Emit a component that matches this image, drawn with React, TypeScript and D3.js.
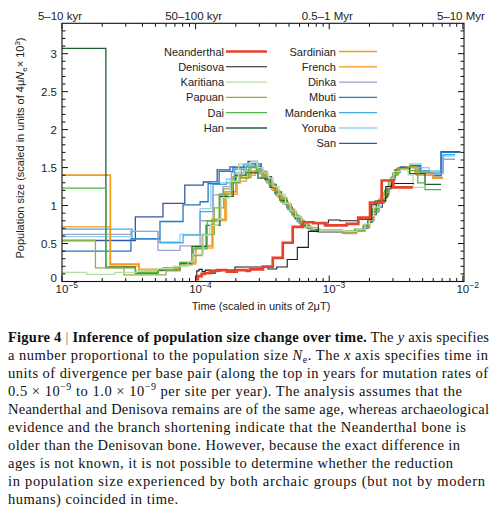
import * as d3 from 'd3';

type Pt = [number, number];

// time in units of 2μT, population size in units of 4μNe × 10^3
const neanderthal: Pt[] = [
  [9.9e-5, 0.03], [1.04e-4, 0.07], [1.11e-4, 0.1], [1.17e-4, 0.11], [1.28e-4, 0.14], [1.44e-4, 0.15],
  [1.71e-4, 0.13], [2.03e-4, 0.15], [2.41e-4, 0.14], [2.55e-4, 0.16], [3.19e-4, 0.195], [3.78e-4, 0.31],
  [4.49e-4, 0.51], [5.33e-4, 0.72], [6.34e-4, 0.78], [7.6e-4, 0.77], [9.31e-4, 0.74], [1.35e-3, 0.76],
  [1.65e-3, 0.84], [2.02e-3, 1.04], [2.47e-3, 1.33], [3.02e-3, 1.24], [4.22e-3, 1.24],
];
const denisova: Pt[] = [
  [9.9e-5, 0.04], [1.02e-4, 0.14], [1.06e-4, 0.16], [1.12e-4, 0.13], [1.18e-4, 0.15], [1.3e-4, 0.11],
  [1.4e-4, 0.14], [1.55e-4, 0.15], [1.97e-4, 0.19], [3.03e-4, 0.19], [3.48e-4, 0.165], [4.05e-4, 0.19],
  [4.85e-4, 0.29], [5.77e-4, 0.45], [6.98e-4, 0.66], [8.28e-4, 0.77], [9.85e-4, 0.81], [1.2e-3, 0.8],
  [1.65e-3, 0.82], [2.08e-3, 1.01], [2.2e-3, 1.06], [2.65e-3, 1.25], [2.94e-3, 1.29], [4.31e-3, 1.29],
];
const karitiana: Pt[] = [
  [1e-5, 0.12], [1.53e-5, 0.095], [2.49e-5, 0.12], [3.62e-5, 0.15], [5.23e-5, 0.17], [6.77e-5, 0.2],
  [8.77e-5, 0.26], [9.57e-5, 0.36], [1.14e-4, 0.61], [1.28e-4, 0.74], [1.47e-4, 0.82], [1.55e-4, 1.1],
  [1.8e-4, 1.32], [2.1e-4, 1.55], [2.6e-4, 1.58], [2.9e-4, 1.5], [3.2e-4, 1.44], [3.5e-4, 1.36],
  [3.8e-4, 1.25], [4.2e-4, 1.15], [4.7e-4, 1.03], [5.1e-4, 0.93], [5.6e-4, 0.85], [6.2e-4, 0.77],
  [6.8e-4, 0.72], [7.6e-4, 0.7], [8.5e-4, 0.67], [1.3e-3, 0.66], [1.6e-3, 0.69], [1.85e-3, 0.76],
  [2.0e-3, 0.86], [2.15e-3, 0.98], [2.4e-3, 1.12], [2.65e-3, 1.24], [2.85e-3, 1.36], [3.05e-3, 1.45],
  [3.4e-3, 1.47], [3.9e-3, 1.4], [4.24e-3, 1.24], [5.21e-3, 1.24],
];
const papuan: Pt[] = [
  [1e-5, 0.54], [1.78e-5, 0.18], [2.91e-5, 0.086], [6.0e-5, 0.14], [7.64e-5, 0.22], [9.4e-5, 0.34],
  [1.12e-4, 0.62], [1.38e-4, 0.97], [1.62e-4, 1.22], [1.9e-4, 1.38], [2.2e-4, 1.47], [2.6e-4, 1.52],
  [2.95e-4, 1.46], [3.25e-4, 1.38], [3.55e-4, 1.29], [3.9e-4, 1.19], [4.3e-4, 1.09], [4.75e-4, 1.0],
  [5.2e-4, 0.91], [5.7e-4, 0.82], [6.3e-4, 0.75], [7.1e-4, 0.7], [8.2e-4, 0.66], [1.28e-3, 0.65],
  [1.58e-3, 0.67], [1.83e-3, 0.72], [1.98e-3, 0.81], [2.13e-3, 0.93], [2.34e-3, 1.05], [2.6e-3, 1.17],
  [2.8e-3, 1.29], [3.0e-3, 1.41], [3.28e-3, 1.49], [3.9e-3, 1.51], [4.6e-3, 1.44], [5.21e-3, 1.44],
];
const dai: Pt[] = [
  [1e-5, 1.23], [2.13e-5, 0.18], [3.54e-5, 0.12], [5.23e-5, 0.16], [7.64e-5, 0.25], [9.6e-5, 0.43],
  [1.22e-4, 0.8], [1.5e-4, 1.15], [1.85e-4, 1.31], [2.1e-4, 1.36], [2.5e-4, 1.5], [2.85e-4, 1.46],
  [3.2e-4, 1.37], [3.55e-4, 1.27], [3.9e-4, 1.16], [4.35e-4, 1.05], [4.9e-4, 0.95], [5.4e-4, 0.86],
  [6.0e-4, 0.77], [6.8e-4, 0.71], [7.8e-4, 0.67], [1.25e-3, 0.66], [1.55e-3, 0.69], [1.82e-3, 0.75],
  [1.98e-3, 0.84], [2.12e-3, 0.96], [2.35e-3, 1.08], [2.6e-3, 1.2], [2.8e-3, 1.32], [3.0e-3, 1.43],
  [3.3e-3, 1.49], [3.9e-3, 1.46], [4.6e-3, 1.3], [5.21e-3, 1.21], [6.87e-3, 1.21],
];
const han: Pt[] = [
  [1e-5, 3.07], [2.13e-5, 0.19], [3.54e-5, 0.11], [5.23e-5, 0.15], [7.64e-5, 0.24], [9.4e-5, 0.46],
  [1.2e-4, 0.74], [1.52e-4, 1.12], [1.91e-4, 1.31], [2.0e-4, 1.4], [2.38e-4, 1.43], [2.93e-4, 1.36],
  [3.31e-4, 1.35], [3.61e-4, 1.24], [3.93e-4, 1.18], [4.28e-4, 1.07], [4.83e-4, 1.0], [5.09e-4, 0.92],
  [5.55e-4, 0.83], [6.15e-4, 0.74], [6.94e-4, 0.7], [8.0e-4, 0.67], [1.3e-3, 0.66], [1.55e-3, 0.68],
  [1.8e-3, 0.73], [1.95e-3, 0.8], [2.05e-3, 0.92], [2.25e-3, 1.03], [2.5e-3, 1.12], [2.75e-3, 1.23],
  [2.9e-3, 1.37], [3.1e-3, 1.47], [3.4e-3, 1.5], [4.0e-3, 1.42], [5.21e-3, 1.28], [6.87e-3, 1.28],
];
const sardinian: Pt[] = [
  [1e-5, 1.4], [2.3e-5, 0.23], [3.77e-5, 0.16], [5.7e-5, 0.18], [7.64e-5, 0.25], [1.0e-4, 0.47],
  [1.33e-4, 0.82], [1.66e-4, 1.18], [2.0e-4, 1.3], [2.15e-4, 1.37], [2.6e-4, 1.45], [2.9e-4, 1.47],
  [3.2e-4, 1.38], [3.5e-4, 1.32], [3.8e-4, 1.2], [4.2e-4, 1.1], [4.7e-4, 1.02], [5.2e-4, 0.92],
  [5.6e-4, 0.82], [6.3e-4, 0.74], [7.0e-4, 0.7], [8.0e-4, 0.66], [1.3e-3, 0.65], [1.6e-3, 0.67],
  [1.85e-3, 0.72], [2.0e-3, 0.8], [2.15e-3, 0.93], [2.35e-3, 1.04], [2.6e-3, 1.15], [2.8e-3, 1.28],
  [3.0e-3, 1.4], [3.25e-3, 1.48], [3.8e-3, 1.51], [4.4e-3, 1.42], [5.98e-3, 1.36], [7.11e-3, 1.36],
];
const french: Pt[] = [
  [1e-5, 0.72], [2.3e-5, 0.2], [3.77e-5, 0.14], [5.7e-5, 0.16], [7.64e-5, 0.23], [1.0e-4, 0.44],
  [1.35e-4, 0.8], [1.7e-4, 1.15], [2.05e-4, 1.32], [2.4e-4, 1.4], [2.8e-4, 1.46], [3.1e-4, 1.42],
  [3.4e-4, 1.34], [3.7e-4, 1.23], [4.1e-4, 1.12], [4.6e-4, 1.03], [5.1e-4, 0.95], [5.5e-4, 0.86],
  [6.1e-4, 0.77], [6.8e-4, 0.71], [7.7e-4, 0.68], [1.25e-3, 0.66], [1.55e-3, 0.68], [1.8e-3, 0.73],
  [1.98e-3, 0.82], [2.1e-3, 0.95], [2.3e-3, 1.06], [2.55e-3, 1.17], [2.78e-3, 1.3], [2.98e-3, 1.42],
  [3.2e-3, 1.49], [3.7e-3, 1.5], [4.5e-3, 1.4], [5.98e-3, 1.37], [7.11e-3, 1.37],
];
const dinka: Pt[] = [
  [1e-5, 0.62], [3.28e-5, 0.66], [5.23e-5, 0.41], [7.64e-5, 0.47], [1.08e-4, 0.8], [1.35e-4, 1.14],
  [1.6e-4, 1.25], [1.85e-4, 1.43], [2.3e-4, 1.45], [2.8e-4, 1.44], [3.1e-4, 1.37], [3.4e-4, 1.3],
  [3.7e-4, 1.21], [4.05e-4, 1.13], [4.45e-4, 1.04], [4.9e-4, 0.96], [5.35e-4, 0.87], [5.85e-4, 0.79],
  [6.5e-4, 0.72], [7.3e-4, 0.68], [8.5e-4, 0.65], [1.3e-3, 0.63], [1.6e-3, 0.66], [1.84e-3, 0.71],
  [1.99e-3, 0.8], [2.14e-3, 0.92], [2.36e-3, 1.04], [2.6e-3, 1.16], [2.8e-3, 1.29], [3.0e-3, 1.41],
  [3.3e-3, 1.48], [4.0e-3, 1.5], [4.9e-3, 1.45], [5.6e-3, 1.42], [7.11e-3, 1.61], [8.75e-3, 1.61],
];
const mbuti: Pt[] = [
  [1e-5, 0.4], [3.28e-5, 0.56], [5.41e-5, 0.79], [8.05e-5, 1.01], [1.08e-4, 1.05], [1.24e-4, 1.29],
  [1.5e-4, 1.45], [1.9e-4, 1.5], [2.3e-4, 1.55], [2.8e-4, 1.52], [3.05e-4, 1.42], [3.35e-4, 1.33],
  [3.65e-4, 1.25], [4.0e-4, 1.14], [4.4e-4, 1.06], [4.85e-4, 0.98], [5.3e-4, 0.88], [5.8e-4, 0.8],
  [6.5e-4, 0.73], [7.3e-4, 0.68], [8.5e-4, 0.65], [1.3e-3, 0.64], [1.6e-3, 0.67], [1.85e-3, 0.71],
  [2.0e-3, 0.81], [2.15e-3, 0.93], [2.35e-3, 1.05], [2.6e-3, 1.17], [2.8e-3, 1.3], [3.0e-3, 1.42],
  [3.3e-3, 1.5], [4.0e-3, 1.52], [4.8e-3, 1.45], [5.6e-3, 1.4], [6.87e-3, 1.7], [9.6e-3, 1.7],
];
const mandenka: Pt[] = [
  [1e-5, 0.69], [3.34e-5, 0.56], [5.41e-5, 0.51], [8.05e-5, 0.61], [1.08e-4, 0.92], [1.35e-4, 1.28],
  [1.7e-4, 1.3], [1.95e-4, 1.48], [2.4e-4, 1.52], [2.75e-4, 1.5], [3.0e-4, 1.44], [3.3e-4, 1.35],
  [3.6e-4, 1.26], [3.95e-4, 1.15], [4.35e-4, 1.06], [4.8e-4, 0.97], [5.25e-4, 0.88], [5.75e-4, 0.79],
  [6.4e-4, 0.72], [7.2e-4, 0.68], [8.3e-4, 0.65], [1.28e-3, 0.64], [1.58e-3, 0.66], [1.82e-3, 0.71],
  [1.97e-3, 0.79], [2.12e-3, 0.91], [2.32e-3, 1.03], [2.58e-3, 1.15], [2.78e-3, 1.28], [2.98e-3, 1.4],
  [3.25e-3, 1.48], [3.9e-3, 1.5], [4.7e-3, 1.46], [5.6e-3, 1.44], [7.11e-3, 1.67], [8.75e-3, 1.67],
];
const yoruba: Pt[] = [
  [1e-5, 0.59], [3.28e-5, 0.66], [5.23e-5, 0.52], [7.64e-5, 0.62], [1.08e-4, 0.96], [1.3e-4, 1.3],
  [1.7e-4, 1.35], [2.0e-4, 1.52], [2.5e-4, 1.55], [2.85e-4, 1.48], [3.1e-4, 1.42], [3.4e-4, 1.32],
  [3.7e-4, 1.22], [4.05e-4, 1.12], [4.5e-4, 1.02], [4.95e-4, 0.94], [5.4e-4, 0.85], [5.9e-4, 0.77],
  [6.6e-4, 0.71], [7.5e-4, 0.67], [8.8e-4, 0.65], [1.3e-3, 0.645], [1.6e-3, 0.67], [1.84e-3, 0.72],
  [1.99e-3, 0.81], [2.14e-3, 0.93], [2.38e-3, 1.06], [2.62e-3, 1.18], [2.82e-3, 1.3], [3.02e-3, 1.42],
  [3.3e-3, 1.5], [4.0e-3, 1.55], [4.9e-3, 1.5], [5.6e-3, 1.46], [7.11e-3, 1.65], [8.75e-3, 1.65],
];
const san: Pt[] = [
  [1e-5, 0.54], [3.54e-5, 0.85], [5.7e-5, 1.03], [8.3e-5, 1.27], [1.14e-4, 1.31], [1.45e-4, 1.47],
  [1.81e-4, 1.51], [2.47e-4, 1.58], [2.9e-4, 1.55], [3.1e-4, 1.45], [3.4e-4, 1.38], [3.7e-4, 1.28],
  [4.0e-4, 1.18], [4.4e-4, 1.1], [4.8e-4, 1.01], [5.2e-4, 0.93], [5.6e-4, 0.85], [6.2e-4, 0.76],
  [6.9e-4, 0.7], [7.8e-4, 0.66], [1.25e-3, 0.64], [1.55e-3, 0.66], [1.8e-3, 0.7], [1.95e-3, 0.78],
  [2.1e-3, 0.88], [2.25e-3, 0.98], [2.5e-3, 1.1], [2.7e-3, 1.22], [2.9e-3, 1.34], [3.1e-3, 1.44],
  [3.4e-3, 1.51], [4.1e-3, 1.53], [4.8e-3, 1.43], [5.98e-3, 1.39], [6.87e-3, 1.71], [9.6e-3, 1.71],
];

const legendLeft = ['Neanderthal', 'Denisova', 'Karitiana', 'Papuan', 'Dai', 'Han'];
const legendRight = ['Sardinian', 'French', 'Dinka', 'Mbuti', 'Mandenka', 'Yoruba', 'San'];
const topLabels = ['5–10 kyr', '50–100 kyr', '0.5–1 Myr', '5–10 Myr'];
const decades = [-5, -4, -3, -2];
const yLabels = [0, 0.5, 1, 1.5, 2, 2.5, 3];

const series: { name: string; color: string; width: number; data: Pt[] }[] = [
  { name: 'Neanderthal', color: '#e8412c', width: 2.7, data: neanderthal },
  { name: 'Denisova', color: '#1a1a1a', width: 1.1, data: denisova },
  { name: 'Karitiana', color: '#b9dca5', width: 1.3, data: karitiana },
  { name: 'Papuan', color: '#8db046', width: 1.3, data: papuan },
  { name: 'Dai', color: '#4cb84a', width: 1.3, data: dai },
  { name: 'Han', color: '#1d5e34', width: 1.3, data: han },
  { name: 'Sardinian', color: '#f29a1d', width: 1.7, data: sardinian },
  { name: 'French', color: '#f5aa45', width: 1.5, data: french },
  { name: 'Dinka', color: '#a39fcf', width: 1.3, data: dinka },
  { name: 'Mbuti', color: '#1f7ac2', width: 1.3, data: mbuti },
  { name: 'Mandenka', color: '#3fade3', width: 1.3, data: mandenka },
  { name: 'Yoruba', color: '#94d1ec', width: 1.3, data: yoruba },
  { name: 'San', color: '#3557a3', width: 1.3, data: san },
];

type Seg = { t: string; b?: boolean; i?: boolean; sup?: boolean; sub?: boolean; thin?: boolean };
const caption: Seg[][] = [
  [{ t: 'Figure 4 ', b: true }, { t: '|', thin: true }, { t: ' Inference of population size change over time.', b: true }, { t: '  The ' }, { t: 'y', i: true }, { t: ' axis specifies' }],
  [{ t: 'a number proportional to the population size ' }, { t: 'N', i: true }, { t: 'e', sub: true }, { t: '. The ' }, { t: 'x', i: true }, { t: ' axis specifies time in' }],
  [{ t: 'units of divergence per base pair (along the top in years for mutation rates of' }],
  [{ t: '0.5 × 10' }, { t: '−9', sup: true }, { t: ' to 1.0 × 10' }, { t: '−9', sup: true }, { t: ' per site per year). The analysis assumes that the' }],
  [{ t: 'Neanderthal and Denisova remains are of the same age, whereas archaeological' }],
  [{ t: 'evidence and the branch shortening indicate that the Neanderthal bone is' }],
  [{ t: 'older than the Denisovan bone. However, because the exact difference in' }],
  [{ t: 'ages is not known, it is not possible to determine whether the reduction' }],
  [{ t: 'in population size experienced by both archaic groups (but not by modern' }],
  [{ t: 'humans) coincided in time.' }],
];
const captionWidths = [481, 480, 480, 454, 481, 458, 452, 445, 477, 170];

const SANS = '"Liberation Sans", Arial, Helvetica, sans-serif';
const SERIF = '"Liberation Serif", "Times New Roman", serif';

function renderSegs(segs: Seg[]) {
  let off = 0;
  return segs.map((s, k) => {
    let target = 0;
    if (s.sup) target = -5.5;
    if (s.sub) target = 3;
    const dy = target - off;
    off = target;
    return (
      <tspan
        key={k}
        dy={dy}
        fontWeight={s.b ? 'bold' : undefined}
        fontStyle={s.i ? 'italic' : undefined}
        fontSize={s.sup || s.sub ? '10px' : undefined}
        fill={s.thin ? '#777' : undefined}
      >
        {s.t}
      </tspan>
    );
  });
}

export default function App() {
  const W = 497;
  const H = 516;
  const left = 62, right = 464, top = 23.3, bottom = 281.5;

  const x = d3.scaleLog().domain([1e-5, 1.02e-2]).range([left, right]);
  const y = d3.scaleLinear().domain([0, 3.4]).range([bottom, top]);
  const line = d3.line<Pt>().x(d => x(d[0])).y(d => y(d[1])).curve(d3.curveStepAfter);

  const xTicks: { v: number; major: boolean }[] = [];
  decades.forEach(d => {
    for (let k = 1; k <= 9; k++) {
      const v = k * Math.pow(10, d);
      if (v <= 1.02e-2) xTicks.push({ v, major: k === 1 });
    }
  });
  const yTicks = d3.range(0, 34).map(i => ({ v: i / 10, major: i % 5 === 0 }));

  const colorOf = (n: string) => series.find(s => s.name === n)!.color;
  const widthOf = (n: string) => Math.min(series.find(s => s.name === n)!.width, 2.4);
  const rowY = (i: number) => 51.5 + i * 15.3;

  return (
    <div style={{ position: 'absolute', left: 0, top: 0, width: W, height: H, background: '#fff' }}>
      <svg width={W} height={H} viewBox={`0 0 ${W} ${H}`} style={{ display: 'block' }}>
        <defs>
          <clipPath id="plot-clip">
            <rect x={left} y={top} width={right - left} height={bottom - top} />
          </clipPath>
        </defs>

        <g clipPath="url(#plot-clip)">
          {[...series].reverse().map(s => (
            <path key={s.name} d={line(s.data) || ''} fill="none" stroke={s.color} strokeWidth={s.width} />
          ))}
        </g>

        {/* frame and ticks */}
        <rect x={left} y={top} width={right - left} height={bottom - top} fill="none" stroke="#111" strokeWidth={1.1} />
        {xTicks.map((t, i) => {
          const px = x(t.v);
          const len = t.major ? 6 : 3.5;
          return (
            <g key={i} stroke="#111" strokeWidth={1}>
              <line x1={px} x2={px} y1={bottom} y2={bottom - len} />
              <line x1={px} x2={px} y1={top} y2={top + len} />
            </g>
          );
        })}
        {yTicks.map((t, i) => {
          const py = y(t.v);
          const len = t.major ? 6 : 3.5;
          return (
            <g key={i} stroke="#111" strokeWidth={1}>
              <line x1={left} x2={left + len} y1={py} y2={py} />
              <line x1={right} x2={right - len} y1={py} y2={py} />
            </g>
          );
        })}

        <g fontFamily={SANS} fontSize="11.5px" fill="#222">
          {yLabels.map(v => (
            <text key={v} x={57} y={y(v) + (v === 0 ? 0 : 4)} textAnchor="end">{String(v)}</text>
          ))}
          {decades.map(d => (
            <text key={d} x={x(Math.pow(10, d)) - 6.4} y={293}>
              10<tspan dy={-5} fontSize="8.5px">{'−' + Math.abs(d)}</tspan>
            </text>
          ))}
          {decades.map((d, i) => (
            <text key={'t' + d} x={x(Math.pow(10, d)) - 2} y={20} textAnchor="middle">{topLabels[i]}</text>
          ))}
          <text x={261} y={310} textAnchor="middle" fontSize="11px">Time (scaled in units of 2μT)</text>
          <text transform="translate(24,148) rotate(-90)" textAnchor="middle" fontSize="11px">
            Population size (scaled in units of 4μ<tspan fontStyle="italic">N</tspan>
            <tspan dy={3} fontSize="8px">e</tspan>
            <tspan dy={-3}>× 10</tspan>
            <tspan dy={-4.5} fontSize="8px">3</tspan>
            <tspan dy={4.5}>)</tspan>
          </text>
        </g>

        {/* legend */}
        <g fontFamily={SANS} fontSize="11px" fill="#222">
          {legendLeft.map((n, i) => (
            <g key={n}>
              <text x={224} y={rowY(i) + 4} textAnchor="end">{n}</text>
              <line x1={226} x2={267} y1={rowY(i)} y2={rowY(i)} stroke={colorOf(n)} strokeWidth={widthOf(n)} />
            </g>
          ))}
          {legendRight.map((n, i) => (
            <g key={n}>
              <text x={336} y={rowY(i) + 4} textAnchor="end">{n}</text>
              <line x1={339} x2={377} y1={rowY(i)} y2={rowY(i)} stroke={colorOf(n)} strokeWidth={widthOf(n)} />
            </g>
          ))}
        </g>

        {/* caption */}
        <g fontFamily={SERIF} fontSize="14.5px" fill="#111">
          {caption.map((segs, i) => (
            <text key={i} x={8} y={341.5 + i * 18.05} textLength={captionWidths[i]} lengthAdjust="spacing">
              {renderSegs(segs)}
            </text>
          ))}
        </g>
      </svg>
    </div>
  );
}
